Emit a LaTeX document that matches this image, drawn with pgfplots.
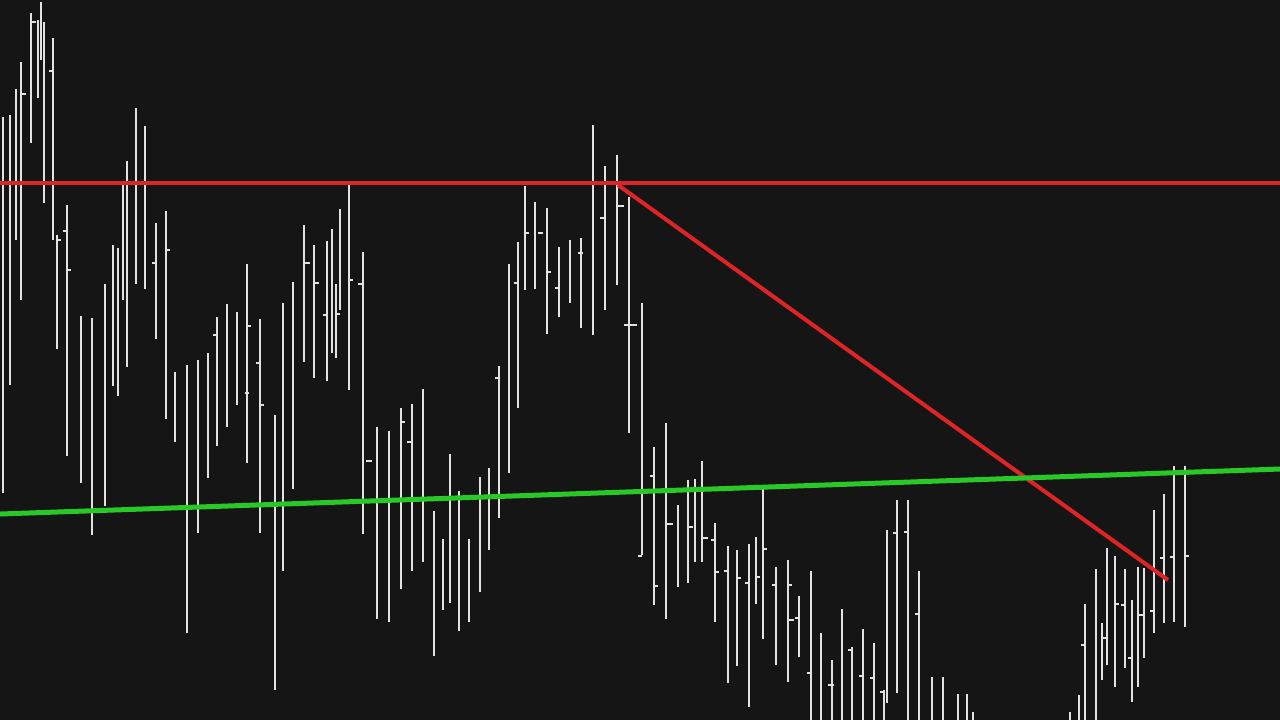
\documentclass[border=0pt]{standalone}
\usepackage{pgfplots}
\pgfplotsset{compat=1.18}
\definecolor{bg}{RGB}{21,21,22}
\definecolor{barc}{RGB}{226,226,226}
\definecolor{redl}{RGB}{222,36,36}
\definecolor{greenl}{RGB}{40,200,40}
\begin{document}
\begin{tikzpicture}
\fill[bg] (0,0) rectangle (640pt,360pt);
\begin{axis}[
  at={(0,0)}, anchor=south west,
  scale only axis, width=640pt, height=360pt,
  xmin=0, xmax=1280, ymin=0, ymax=720, y dir=reverse,
  hide axis, clip=true,
  unbounded coords=jump,
]
% high-low ranges
\addplot[barc, line width=1pt, mark=none] table {
x y
3 117
3 493
nan nan
10 115
10 385
nan nan
16 89
16 240
nan nan
21 62
21 300
nan nan
31 13
31 143
nan nan
38 20
38 98
nan nan
41 2
41 60
nan nan
44 22
44 203
nan nan
53 38
53 240
nan nan
57 235
57 349
nan nan
67 205
67 456
nan nan
81 316
81 483
nan nan
92 318
92 535
nan nan
105 284
105 506
nan nan
113 245
113 386
nan nan
118 248
118 396
nan nan
123 183
123 300
nan nan
127 161
127 367
nan nan
136 108
136 284
nan nan
145 126
145 289
nan nan
156 223
156 339
nan nan
166 211
166 419
nan nan
175 372
175 442
nan nan
187 365
187 633
nan nan
198 360
198 533
nan nan
208 353
208 478
nan nan
217 317
217 446
nan nan
227 304
227 427
nan nan
237 312
237 405
nan nan
247 264
247 463
nan nan
260 319
260 533
nan nan
275 415
275 690
nan nan
283 303
283 571
nan nan
293 282
293 489
nan nan
304 225
304 362
nan nan
314 245
314 378
nan nan
327 241
327 381
nan nan
332 229
332 353
nan nan
336 284
336 358
nan nan
340 209
340 310
nan nan
349 182
349 390
nan nan
363 252
363 534
nan nan
377 427
377 619
nan nan
389 431
389 622
nan nan
401 408
401 589
nan nan
412 404
412 571
nan nan
423 389
423 562
nan nan
434 511
434 656
nan nan
443 539
443 610
nan nan
450 454
450 603
nan nan
459 491
459 631
nan nan
469 539
469 622
nan nan
480 477
480 592
nan nan
489 468
489 550
nan nan
499 366
499 518
nan nan
509 264
509 473
nan nan
518 242
518 408
nan nan
525 186
525 290
nan nan
535 202
535 289
nan nan
547 208
547 334
nan nan
559 247
559 317
nan nan
570 240
570 303
nan nan
581 238
581 328
nan nan
593 125
593 335
nan nan
605 166
605 310
nan nan
617 155
617 285
nan nan
629 197
629 433
nan nan
642 303
642 555
nan nan
654 447
654 605
nan nan
666 423
666 619
nan nan
678 505
678 587
nan nan
688 480
688 583
nan nan
695 479
695 562
nan nan
702 461
702 562
nan nan
715 523
715 622
nan nan
728 546
728 683
nan nan
737 550
737 666
nan nan
749 544
749 707
nan nan
756 537
756 604
nan nan
763 488
763 639
nan nan
776 567
776 665
nan nan
788 560
788 682
nan nan
799 596
799 657
nan nan
811 571
811 720
nan nan
821 633
821 720
nan nan
832 660
832 720
nan nan
842 609
842 720
nan nan
852 647
852 720
nan nan
863 629
863 720
nan nan
874 643
874 720
nan nan
884 690
884 720
nan nan
887 530
887 703
nan nan
897 500
897 693
nan nan
908 500
908 720
nan nan
919 571
919 720
nan nan
932 677
932 720
nan nan
943 677
943 720
nan nan
958 694
958 720
nan nan
967 694
967 720
nan nan
973 712
973 720
nan nan
1070 712
1070 720
nan nan
1079 695
1079 720
nan nan
1085 604
1085 720
nan nan
1096 569
1096 720
nan nan
1102 623
1102 680
nan nan
1107 548
1107 665
nan nan
1115 556
1115 687
nan nan
1125 569
1125 668
nan nan
1132 600
1132 702
nan nan
1138 567
1138 687
nan nan
1144 568
1144 658
nan nan
1154 510
1154 633
nan nan
1164 494
1164 623
nan nan
1174 466
1174 622
nan nan
1185 466
1185 627
};
% open / close ticks
\addplot[barc, line width=0.8pt, mark=none] table {
x y
21 94
26 94
nan nan
31 22
36 22
nan nan
49 71
53 71
nan nan
57 240
61 240
nan nan
63 231
67 231
nan nan
67 270
71 270
nan nan
152 263
156 263
nan nan
166 250
170 250
nan nan
213 335
217 335
nan nan
247 326
251 326
nan nan
245 393
249 393
nan nan
256 363
260 363
nan nan
260 405
264 405
nan nan
304 263
310 263
nan nan
315 283
319 283
nan nan
323 315
327 315
nan nan
336 314
340 314
nan nan
349 280
353 280
nan nan
358 284
363 284
nan nan
366 461
372 461
nan nan
401 422
405 422
nan nan
407 442
412 442
nan nan
495 378
499 378
nan nan
514 283
518 283
nan nan
525 233
529 233
nan nan
538 233
543 233
nan nan
547 272
551 272
nan nan
555 288
559 288
nan nan
578 253
583 253
nan nan
600 218
605 218
nan nan
617 206
624 206
nan nan
629 325
637 325
nan nan
629 325
624 325
nan nan
650 476
655 476
nan nan
638 556
642 556
nan nan
654 586
658 586
nan nan
666 524
673 524
nan nan
688 527
693 527
nan nan
702 538
708 538
nan nan
711 540
715 540
nan nan
715 572
719 572
nan nan
724 571
728 571
nan nan
737 578
741 578
nan nan
745 583
749 583
nan nan
756 577
760 577
nan nan
763 549
767 549
nan nan
772 585
776 585
nan nan
788 585
792 585
nan nan
788 620
794 620
nan nan
795 618
799 618
nan nan
807 673
811 673
nan nan
828 685
834 685
nan nan
848 650
852 650
nan nan
859 676
863 676
nan nan
870 678
874 678
nan nan
880 692
884 692
nan nan
893 533
897 533
nan nan
904 532
908 532
nan nan
915 614
919 614
nan nan
1081 645
1085 645
nan nan
1103 638
1107 638
nan nan
1115 604
1119 604
nan nan
1121 605
1125 605
nan nan
1128 658
1132 658
nan nan
1138 615
1143 615
nan nan
1150 611
1154 611
nan nan
1160 558
1164 558
nan nan
1170 557
1174 557
nan nan
1185 556
1189 556
};
\addplot[redl, line width=2pt, mark=none] coordinates {(0,183) (1280,183)};
\addplot[redl, line width=2pt, mark=none] coordinates {(618,185) (1168,580)};
\addplot[greenl, line width=2.5pt, mark=none] coordinates {(0,514) (1280,469)};
\end{axis}
\end{tikzpicture}
\end{document}
